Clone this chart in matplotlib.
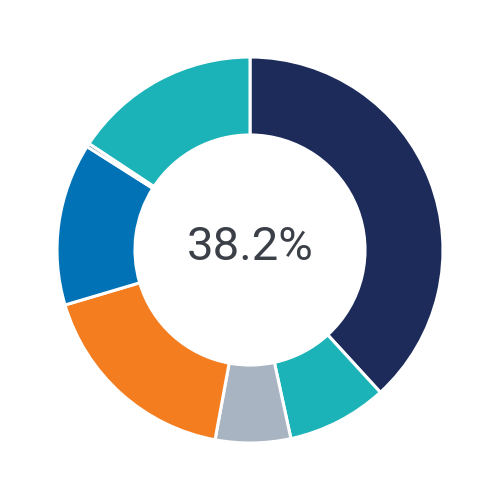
import matplotlib
matplotlib.use("Agg")
import matplotlib.pyplot as plt

labels = ["A", "B", "C", "D", "E", "F", "G"]
values = [38.2, 8.4, 6.3, 17.5, 13.6, 0.3, 15.7]
colors = ["#1c2b5a", "#1bb3b7", "#a9b4c2", "#f47d20", "#0172b6", "#1c4a6a", "#1bb3b7"]
center_label = "38.2%"

fig = plt.figure(figsize=(5, 5), dpi=100)
ax = fig.add_axes([0, 0, 1, 1])
ax.pie(values, colors=colors, startangle=90, counterclock=False, radius=1.0,
       wedgeprops=dict(width=0.404, edgecolor="white", linewidth=2.2))
lim = 250 / 193
ax.set_xlim(-lim, lim)
ax.set_ylim(-lim, lim)
ax.set_aspect("equal")
ax.axis("off")
ax.text(0, 0.015, center_label, ha="center", va="center", fontsize=34,
        family=["Roboto", "DejaVu Sans"], color="#3b4048")
fig.savefig("out.png", dpi=100, facecolor="white")
